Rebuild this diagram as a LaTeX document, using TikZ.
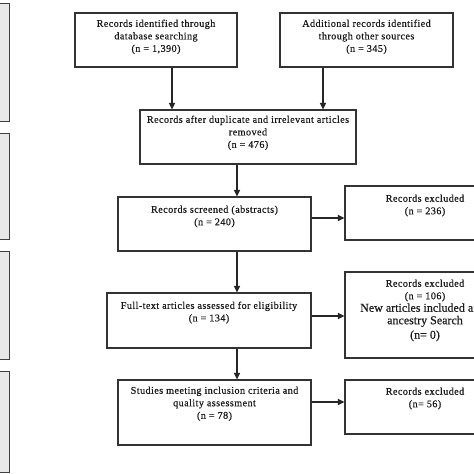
\documentclass[tikz,border=0pt]{standalone}
\usepackage{fontspec}
\setmainfont{Liberation Serif}
\newfontfamily\boxfont[LetterSpace=4, FakeBold=0.4]{Liberation Serif}
\newfontfamily\bigfont[FakeBold=0.4]{Liberation Serif}
\usetikzlibrary{calc}
\usetikzlibrary{positioning, arrows.meta}

\begin{document}
\begin{tikzpicture}[
    x=1pt, y=-1pt,
    % Define styles for boxes, texts and links
    box/.style={rectangle, draw=black!80, line width=1.1pt, fill=white, inner sep=0pt},
    txt/.style={align=center, anchor=north, inner sep=0pt, text=black!90, font=\boxfont\fontsize{10.2}{12.5}\selectfont},
    side/.style={rectangle, draw=black!75, fill=gray!18, line width=1pt, inner sep=0pt},
    link/.style={draw=black!85, line width=1.1pt, -{Triangle[length=6.5pt,width=6pt]}}
]

    % --- Page ---
    \useasboundingbox (0,0) rectangle (474,474);
    \clip (0,0) rectangle (474,474);
    \fill[white] (0,0) rectangle (474,474);

    % --- Configuration ---
    \def\spineX{237}   % x of the vertical chain
    \def\rightL{345}   % left edge of the excluded boxes
    \def\rightR{505}   % right edge of the excluded boxes
    \newcommand{\bigline}[1]{{\bigfont\fontsize{12}{13}\selectfont #1}}

    % --- Helper Macro for Boxes ---
    % Arguments: (name, x1, y1, x2, y2, top padding, text)
    \newcommand{\flowbox}[7]{
        \node[box, minimum width=#4-#2, minimum height=#5-#3] (#1) at ({(#2+#4)/2}, {(#3+#5)/2}) {};
        \node[txt] (#1t) at ($(#1.north)+(0,#6)$) {#7};
    }

    % --- Side bars (cut off at the left) ---
    \foreach \top/\bot [count=\i] in {3/121, 133/239, 251/359, 371/472} {
        \node[side, minimum width=30, minimum height=\bot-\top] (S\i) at (-6, {(\top+\bot)/2}) {};
    }

    % ================= IDENTIFICATION =================
    \flowbox{id}{75}{13}{237}{67}{7}{Records identified through\\database searching\\(n = 1,390)}
    \flowbox{add}{280}{13}{453}{67}{7}{Additional records identified\\through other sources\\(n = 345)}
    \flowbox{dup}{140}{110}{356}{164}{6}{Records after duplicate and irrelevant articles\\removed\\(n = 476)}

    % ================= SCREENING =================
    \flowbox{scr}{118}{197}{311}{251}{9}{Records screened (abstracts)\\(n = 240)}
    \flowbox{ex1}{\rightL}{186}{\rightR}{240}{9}{Records excluded\\(n = 236)}

    % ================= ELIGIBILITY =================
    \flowbox{full}{107}{293}{311}{348}{9}{Full-text articles assessed for eligibility\\(n = 134)}
    \flowbox{ex2}{\rightL}{272}{\rightR}{358}{8}{Records excluded\\(n = 106)\\\bigline{New articles included after}\\\bigline{ancestry Search}\\[2pt]\bigline{(n= 0)}}

    % ================= INCLUDED =================
    \flowbox{inc}{118}{380}{311}{445}{7}{Studies meeting inclusion criteria and\\quality assessment\\(n = 78)}
    \flowbox{ex3}{\rightL}{380}{\rightR}{434}{8}{Records excluded\\(n= 56)}

    % --- Connect the boxes ---
    \coordinate (spine) at (\spineX, 0);
    \draw[link] (id.south -| 172,0) -- (dup.north -| 172,0);
    \draw[link] (add.south -| 323,0) -- (dup.north -| 323,0);
    \draw[link] (dup.south -| spine) -- (scr.north -| spine);
    \draw[link] (scr.south -| spine) -- (full.north -| spine);
    \draw[link] (full.south -| spine) -- (inc.north -| spine);
    % horizontal links to the excluded boxes
    \draw[link] (scr.east |- 0,218) -- (ex1.west |- 0,218);
    \draw[link] (full.east |- 0,316) -- (ex2.west |- 0,316);
    \draw[link] (inc.east |- 0,402) -- (ex3.west |- 0,402);

\end{tikzpicture}
\end{document}
